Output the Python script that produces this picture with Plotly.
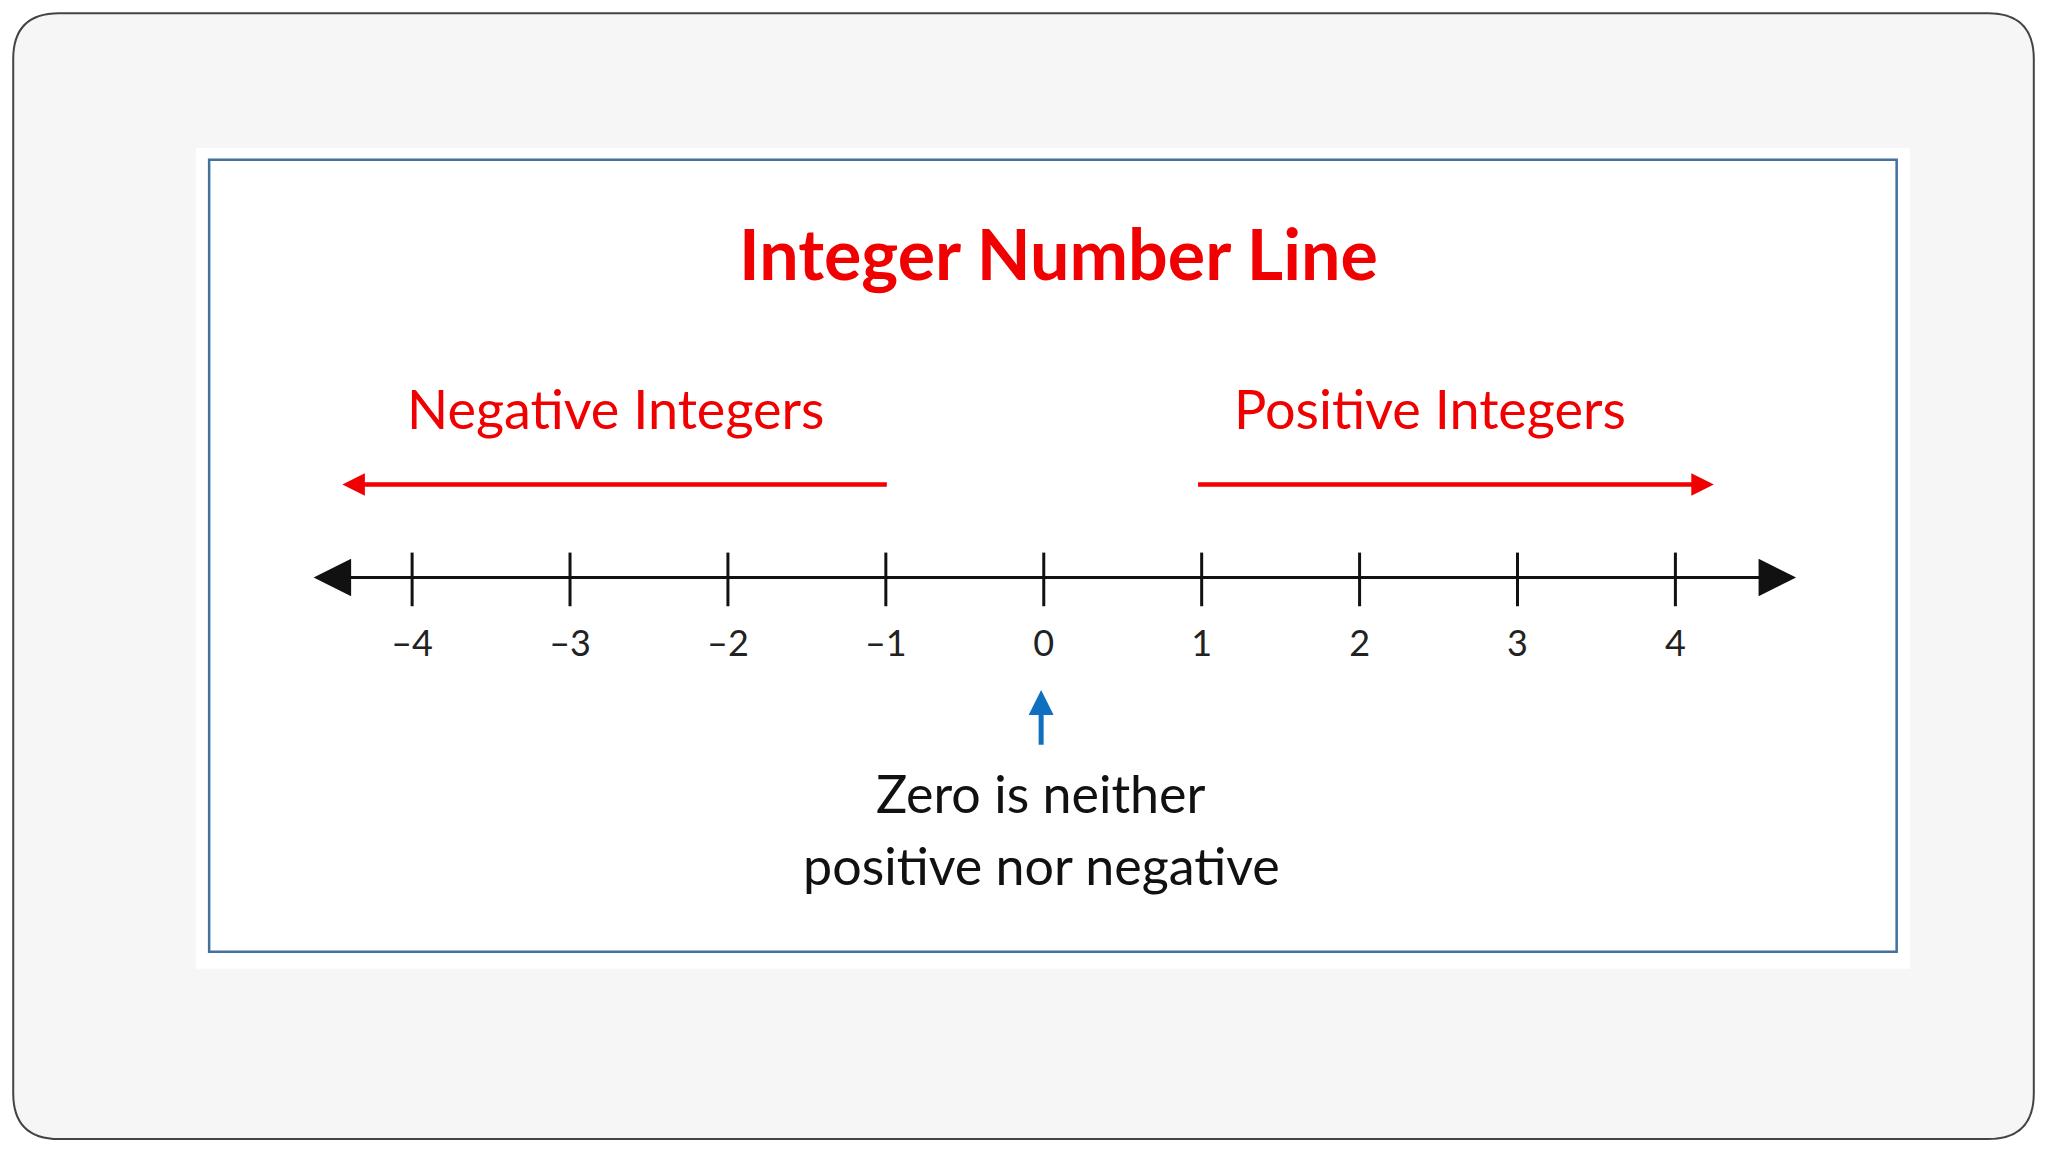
import plotly.graph_objects as go

# number line values
ticks = [-4, -3, -2, -1, 0, 1, 2, 3, 4]
tick_labels = ["–4", "–3", "–2", "–1", "0", "1", "2", "3", "4"]
title = "Integer Number Line"
neg_label = "Negative Integers"
pos_label = "Positive Integers"
zero_note = ["Zero is neither", "positive nor negative"]

# reference-pixel helpers (reference drawn at 1568x880)
X0, UNIT = 799, 120.9


def X(p):
    return (p - X0) / UNIT


RED = "#f00000"
fig = go.Figure()

# ticks
for t in ticks:
    fig.add_shape(type="line", x0=t, x1=t, y0=422, y1=463, xref="x", yref="y",
                  line=dict(color="#111", width=3))
fig.add_trace(go.Scatter(x=ticks, y=[494] * len(ticks), mode="text", text=tick_labels,
                         textfont=dict(family="Lato", size=36, color="#222"),
                         hoverinfo="skip", showlegend=False))

# background frame
path = "M {a},{t} L {b},{t} Q {r},{t} {r},{tt} L {r},{bb} Q {r},{bo} {b},{bo} L {a},{bo} Q {l},{bo} {l},{bb} L {l},{tt} Q {l},{t} {a},{t} Z".format(
    l=X(10), r=X(1557), a=X(45), b=X(1522), t=10, tt=45, bo=870, bb=835)
fig.add_shape(type="path", path=path, xref="x", yref="y", fillcolor="#f6f6f6",
              line=dict(color="#444", width=2), layer="below")
fig.add_shape(type="rect", x0=X(150), x1=X(1462), y0=113, y1=740, xref="x", yref="y",
              fillcolor="white", line=dict(width=0), layer="below")
fig.add_shape(type="rect", x0=X(160), x1=X(1452), y0=122, y1=727, xref="x", yref="y",
              fillcolor="white", line=dict(color="#41719c", width=2.5), layer="below")

# number line
fig.add_shape(type="line", x0=X(262), x1=X(1350), y0=441, y1=441, xref="x", yref="y",
              line=dict(color="#111", width=3))


def arrow(x_tip, y_tip, x_tail, y_tail, color, width, size):
    fig.add_annotation(x=x_tip, y=y_tip, ax=x_tail, ay=y_tail, xref="x", yref="y",
                       axref="x", ayref="y", text="", showarrow=True, arrowhead=2,
                       arrowsize=size, arrowwidth=width, arrowcolor=color)


arrow(X(240), 441, X(300), 441, "#111", 3, 2.5)
arrow(X(1375), 441, X(1320), 441, "#111", 3, 2.5)
arrow(X(262), 370, X(680), 370, RED, 4.5, 1.0)
arrow(X(1312), 370, X(916), 370, RED, 4.5, 1.0)
arrow(X(797), 527, X(797), 570, "#1070c0", 5, 1.0)

fig.add_annotation(x=X(810), y=193, xref="x", yref="y", text="<b>%s</b>" % title,
                   showarrow=False, font=dict(family="Lato", size=70, color=RED))
fig.add_annotation(x=X(471), y=312, xref="x", yref="y", text=neg_label, showarrow=False,
                   font=dict(family="Lato", size=54, color=RED))
fig.add_annotation(x=X(1095), y=312, xref="x", yref="y", text=pos_label, showarrow=False,
                   font=dict(family="Lato", size=54, color=RED))
for yy, line in zip([606, 661], zero_note):
    fig.add_annotation(x=X(797), y=yy, xref="x", yref="y", text=line, showarrow=False,
                       font=dict(family="Lato", size=52, color="#111"))

fig.update_xaxes(range=[X(6), X(1574)], visible=False, fixedrange=True)
fig.update_yaxes(range=[886, 6], visible=False, fixedrange=True)
fig.update_layout(width=2048, height=1152, margin=dict(l=0, r=0, t=0, b=0),
                  paper_bgcolor="white", plot_bgcolor="white")
fig.write_html("out.html")
